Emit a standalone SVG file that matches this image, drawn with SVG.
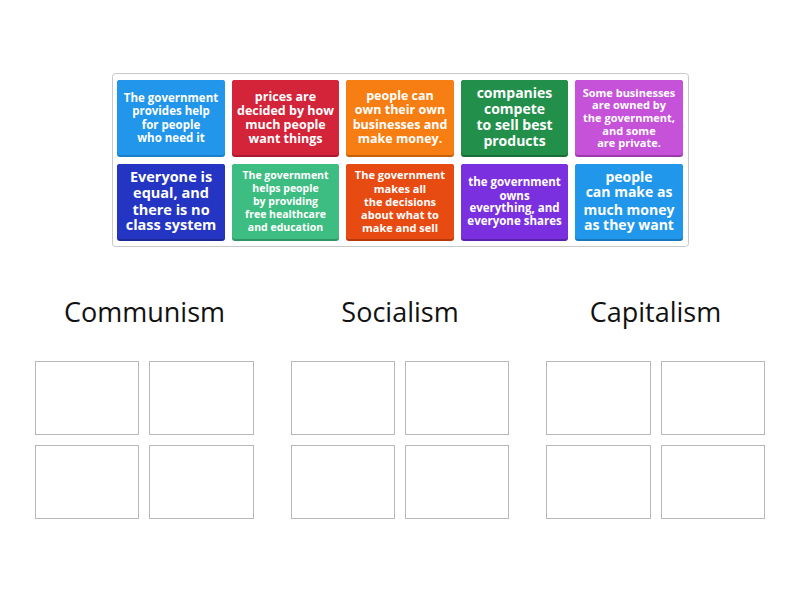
<svg xmlns="http://www.w3.org/2000/svg" width="800" height="600" viewBox="0 0 800 600">
<style>
.panel{fill:#fff;stroke:#c8c8c8;stroke-width:1}
.ct{fill:#fff;font-family:"Open Sans","DejaVu Sans",sans-serif;font-weight:bold;text-anchor:middle}
.hd{fill:#111;font-family:"Open Sans","DejaVu Sans",sans-serif;font-size:27px;text-anchor:middle}
.slot{fill:#fff;stroke:#b8b8b8;stroke-width:1}
</style>
<rect width="800" height="600" fill="#fff"/>
<rect class="panel" x="112.5" y="73.5" width="576" height="173" rx="3"/>
<g id="card1">
<rect x="117" y="80" width="108" height="77" rx="3" fill="#1a7fc8"/>
<rect x="117" y="80" width="108" height="75" rx="3" fill="#2196ea"/>
<text class="ct" font-size="11.5"><tspan x="171" y="102">The government</tspan><tspan x="171" y="115">provides help</tspan><tspan x="171" y="128.5">for people</tspan><tspan x="171" y="141.5">who need it</tspan></text>
</g>
<g id="card2">
<rect x="232" y="80" width="107" height="77" rx="3" fill="#a81a2c"/>
<rect x="232" y="80" width="107" height="75" rx="3" fill="#d4243a"/>
<text class="ct" font-size="12.5"><tspan x="285.5" y="100.5">prices are</tspan><tspan x="285.5" y="114.5">decided by how</tspan><tspan x="285.5" y="129">much people</tspan><tspan x="285.5" y="142.5">want things</tspan></text>
</g>
<g id="card3">
<rect x="346" y="80" width="108" height="77" rx="3" fill="#c8600a"/>
<rect x="346" y="80" width="108" height="75" rx="3" fill="#f77e12"/>
<text class="ct" font-size="12.5"><tspan x="400" y="100.2">people can</tspan><tspan x="400" y="114">own their own</tspan><tspan x="400" y="128.6">businesses and</tspan><tspan x="400" y="143">make money.</tspan></text>
</g>
<g id="card4">
<rect x="461" y="80" width="107" height="77" rx="3" fill="#1a6e38"/>
<rect x="461" y="80" width="107" height="75" rx="3" fill="#22904a"/>
<text class="ct" font-size="14"><tspan x="514.5" y="97.8">companies</tspan><tspan x="514.5" y="113.5">compete</tspan><tspan x="514.5" y="129.5">to sell best</tspan><tspan x="514.5" y="145.8">products</tspan></text>
</g>
<g id="card5">
<rect x="575" y="80" width="108" height="77" rx="3" fill="#9c3aae"/>
<rect x="575" y="80" width="108" height="75" rx="3" fill="#c652d9"/>
<text class="ct" font-size="11"><tspan x="629" y="96.5">Some businesses</tspan><tspan x="629" y="109">are owned by</tspan><tspan x="629" y="121.5">the government,</tspan><tspan x="629" y="134.5">and some</tspan><tspan x="629" y="146.8">are private.</tspan></text>
</g>
<g id="card6">
<rect x="117" y="164" width="108" height="77" rx="3" fill="#1a2898"/>
<rect x="117" y="164" width="108" height="75" rx="3" fill="#2335c2"/>
<text class="ct" font-size="14.5"><tspan x="171" y="182.3">Everyone is</tspan><tspan x="171" y="197.5">equal, and</tspan><tspan x="171" y="214.8">there is no</tspan><tspan x="171" y="229.8">class system</tspan></text>
</g>
<g id="card7">
<rect x="232" y="164" width="107" height="77" rx="3" fill="#2e9564"/>
<rect x="232" y="164" width="107" height="75" rx="3" fill="#3ebd82"/>
<text class="ct" font-size="10.5"><tspan x="285.5" y="178.5">The government</tspan><tspan x="285.5" y="191.7">helps people</tspan><tspan x="285.5" y="205">by providing</tspan><tspan x="285.5" y="217.7">free healthcare</tspan><tspan x="285.5" y="230.7">and education</tspan></text>
</g>
<g id="card8">
<rect x="346" y="164" width="108" height="77" rx="3" fill="#b8380c"/>
<rect x="346" y="164" width="108" height="75" rx="3" fill="#e84b12"/>
<text class="ct" font-size="11"><tspan x="400" y="179.2">The government</tspan><tspan x="400" y="192.8">makes all</tspan><tspan x="400" y="205.8">the decisions</tspan><tspan x="400" y="218.5">about what to</tspan><tspan x="400" y="231.8">make and sell</tspan></text>
</g>
<g id="card9">
<rect x="461" y="164" width="107" height="77" rx="3" fill="#5c22ae"/>
<rect x="461" y="164" width="107" height="75" rx="3" fill="#7b30e0"/>
<text class="ct" font-size="11.5"><tspan x="514.5" y="186">the government</tspan><tspan x="514.5" y="199.7">owns</tspan><tspan x="514.5" y="212">everything, and</tspan><tspan x="514.5" y="225.3">everyone shares</tspan></text>
</g>
<g id="card10">
<rect x="575" y="164" width="108" height="77" rx="3" fill="#1878bc"/>
<rect x="575" y="164" width="108" height="75" rx="3" fill="#2097ea"/>
<text class="ct" font-size="14"><tspan x="629" y="182.2">people</tspan><tspan x="629" y="197.2">can make as</tspan><tspan x="629" y="214.5">much money</tspan><tspan x="629" y="229.5">as they want</tspan></text>
</g>
<g id="communism">
<text class="hd" x="144.5" y="321.5">Communism</text>
<rect class="slot" x="35.5" y="361.5" width="103" height="73"/>
<rect class="slot" x="149.5" y="361.5" width="104" height="73"/>
<rect class="slot" x="35.5" y="445.5" width="103" height="73"/>
<rect class="slot" x="149.5" y="445.5" width="104" height="73"/>
</g>
<g id="socialism">
<text class="hd" x="400" y="321.5">Socialism</text>
<rect class="slot" x="291.5" y="361.5" width="103" height="73"/>
<rect class="slot" x="405.5" y="361.5" width="103" height="73"/>
<rect class="slot" x="291.5" y="445.5" width="103" height="73"/>
<rect class="slot" x="405.5" y="445.5" width="103" height="73"/>
</g>
<g id="capitalism">
<text class="hd" x="655.5" y="321.5">Capitalism</text>
<rect class="slot" x="546.5" y="361.5" width="104" height="73"/>
<rect class="slot" x="661.5" y="361.5" width="103" height="73"/>
<rect class="slot" x="546.5" y="445.5" width="104" height="73"/>
<rect class="slot" x="661.5" y="445.5" width="103" height="73"/>
</g>
<g id="connectors"></g>
</svg>
